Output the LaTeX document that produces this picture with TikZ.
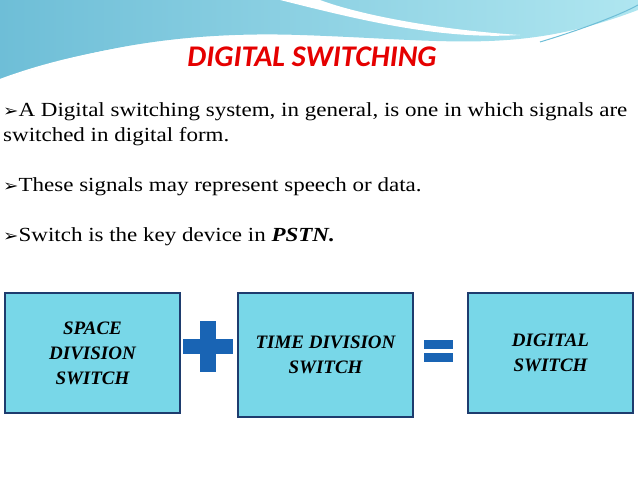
\documentclass[tikz,border=0pt]{standalone}
\usepackage{fontspec}
\setmainfont{Liberation Serif}
\newfontfamily\titlefont{Carlito}
\newfontfamily\symfont{DejaVu Sans}
\definecolor{boxfill}{RGB}{120,215,232}
\definecolor{boxline}{RGB}{30,60,110}
\definecolor{opblue}{RGB}{25,100,180}
\definecolor{bannerA}{RGB}{110,190,215}
\definecolor{bannerB}{RGB}{175,230,240}
\begin{document}
\begin{tikzpicture}[x=1pt,y=-1pt,
  blk/.style={draw=boxline,line width=1.2pt,fill=boxfill,inner sep=0pt,font=\fontsize{19}{25}\selectfont\itshape\bfseries,align=center},
  txt/.style={anchor=west,inner sep=0pt,font=\fontsize{20}{24}\selectfont},
  op/.style={fill=opblue}]
\useasboundingbox (0,0) rectangle (638,478);
% banner
\shade[left color=bannerA,right color=bannerB] (0,0) -- (638,0) -- (638,10) .. controls (520,55) and (450,40) .. (300,35) .. controls (150,30) and (60,60) .. (0,80) -- cycle;
\fill[white] (280,0) -- (320,0) .. controls (360,15) and (440,30) .. (520,35) .. controls (440,40) and (360,20) .. (280,0);
\draw[white,line width=2pt] (0,80) .. controls (80,50) and (200,30) .. (340,40);
\draw[bannerA,line width=1pt] (540,42) .. controls (580,30) and (620,15) .. (638,5);
\node[font=\titlefont\fontsize{30}{34}\selectfont\bfseries\itshape,text=red!90!black] (title) at (312,57) {DIGITAL SWITCHING};
% text
\node[txt] (l1) at (3,112) {\scalebox{1.15}[1]{{\symfont\fontsize{16}{16}\selectfont ➢}A Digital switching system, in general, is one in which signals are}};
\node[txt] (l2) at (3,137) {\scalebox{1.15}[1]{switched in digital form.}};
\node[txt] (l3) at (3,187) {\scalebox{1.15}[1]{{\symfont\fontsize{16}{16}\selectfont ➢}These signals may represent speech or data.}};
\node[txt] (l4) at (3,237) {\scalebox{1.15}[1]{{\symfont\fontsize{16}{16}\selectfont ➢}Switch is the key device in \textbf{\textit{PSTN.}}}};
% boxes
\node[blk,minimum width=175,minimum height=120] (b1) at (92.5,353) {SPACE\\DIVISION\\SWITCH};
\node[blk,minimum width=175,minimum height=124] (b2) at (325.5,355) {TIME DIVISION\\SWITCH};
\node[blk,minimum width=165,minimum height=120] (b3) at (550.5,353) {DIGITAL\\SWITCH};
% plus
\fill[op] (183,339) rectangle (233,354);
\fill[op] (200,321) rectangle (216,372);
% equals
\fill[op] (424,340) rectangle (453,349);
\fill[op] (424,353) rectangle (453,362);
\end{tikzpicture}
\end{document}
